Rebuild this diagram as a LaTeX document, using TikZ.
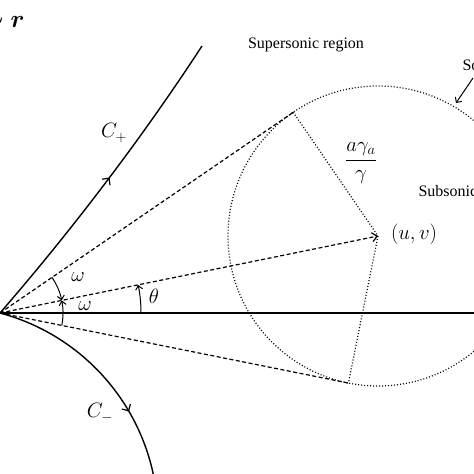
\documentclass[tikz,border=0pt]{standalone}
\usepackage{amsmath,bm}
\usepackage{fontspec}
\newfontfamily\lblfont{Liberation Serif}
\usetikzlibrary{arrows.meta,calc,decorations.markings}
\begin{document}
\begin{tikzpicture}[x=1pt,y=1pt,
  solidline/.style={line width=1.4pt},
  dashline/.style={line width=1.2pt,dash pattern=on 4pt off 2.5pt},
  dotline/.style={line width=1.2pt,dash pattern=on 1pt off 2pt},
  angarc/.style={line width=1pt,-{Straight Barb[length=4pt,width=7pt]}},
  mathlbl/.style={font=\fontsize{20}{22}\selectfont},
  txtlbl/.style={font=\lblfont\fontsize{16}{18}\selectfont},
  midarrow/.style={postaction={decorate},decoration={markings,
    mark=at position #1 with {\arrow{Straight Barb[length=5pt,width=10pt,line width=1.2pt]}}}}
]
\useasboundingbox (0,0) rectangle (474,474);
\clip (0,0) rectangle (474,474);
\coordinate (O) at (0,161);
\coordinate (E) at (474,161);
\coordinate (C) at (378,238);
\coordinate (T1) at ($(O)+(34.39:355.4)$);
\coordinate (T2) at ($(O)+(-11.37:355.4)$);
% axis
\draw[solidline] (O) -- (E);
% sonic circle
\node[draw,dotline,circle,minimum size=300pt,inner sep=0pt] (circ) at (C) {};
% tangents and velocity
\draw[dashline] (O) -- (T1);
\draw[dashline] (O) -- (T2);
\draw[dashline,-{Straight Barb[length=5pt,width=9pt,line width=1.2pt]}] (O) -- (C);
\draw[dotline] (T1) -- (C);
\draw[dotline] (C) -- (T2);
% characteristics
\draw[solidline,midarrow=0.52] (O) .. controls (72,244) and (142,336) .. (202,428);
\draw[solidline,midarrow=0.64] (O) arc[start angle=75.05,end angle=5,radius=212.9];
% angle arcs
\draw[angarc] ($(O)+(34.39:63)$) arc[start angle=34.39,end angle=11.51,radius=63];
\draw[angarc] ($(O)+(-11.37:63)$) arc[start angle=-11.37,end angle=11.51,radius=63];
\draw[angarc] ($(O)+(0:141)$) arc[start angle=0,end angle=11.51,radius=141];
% labels
\node[mathlbl] (w1) at (78,197) {$\omega$};
\node[mathlbl] (w2) at (85,168) {$\omega$};
\node[mathlbl] (th) at (154,178) {$\theta$};
\node[mathlbl] (cp) at (114,341) {$C_+$};
\node[mathlbl] (cm) at (100,61) {$C_-$};
\node[mathlbl] (uv) at (414,240) {$(u,v)$};
\node[mathlbl] (fr) at (361,311) {$\dfrac{a\gamma_a}{\gamma}$};
\node[txtlbl] (sup) at (306,429) {Supersonic region};
\node[txtlbl,anchor=west] (sub) at (415,281) {Subsonic region};
\node[txtlbl,anchor=west] (son) at (459,409) {Sonic circle};
\coordinate (sa) at (473,396);
\coordinate (sb) at (456,371);
\draw[line width=1pt,-{Straight Barb[length=4pt,width=8pt]}] (sa) -- (sb);
\node[font=\fontsize{30}{32}\selectfont,anchor=base east] (rr) at (28,446) {$\bm{\sim}\bm{r}$};
\end{tikzpicture}
\end{document}
